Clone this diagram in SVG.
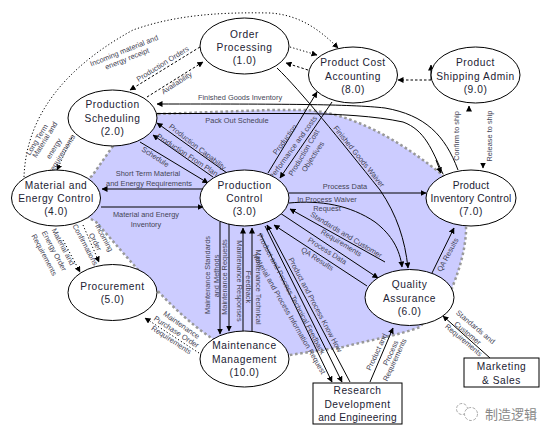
<svg xmlns="http://www.w3.org/2000/svg" width="554" height="439" viewBox="0 0 554 439">
<style>
.n{fill:#fff;stroke:#000;stroke-width:1}
.t{font:10.2px "Liberation Sans",Arial,sans-serif;letter-spacing:.55px;fill:#223;text-anchor:middle}
.l{font:7.4px "Liberation Sans",Arial,sans-serif;fill:#445;text-anchor:middle}
.c{fill:none;stroke:#000;stroke-width:1}
.a{marker-end:url(#h)}
.dot{stroke-dasharray:1.2 2.2}
.dash{stroke-dasharray:2.5 2}
</style>
<defs>
<marker id="h" viewBox="0 0 6 6" refX="5.5" refY="3" markerWidth="6" markerHeight="6" markerUnits="userSpaceOnUse" orient="auto"><path d="M0,0L6,3L0,6Z" fill="#000"/></marker>
</defs>
<rect width="554" height="439" fill="#fff"/>
<path id="region" d="M158,114L270,110L305,110C350,112 400,140 445,177L466,226L466,232C465,250 460,268 452,288L420,327C400,335 370,340 343,347L290,355L244,359L210,337C170,310 130,260 96,222L56,198L92,176L113,146L125,120Z" fill="#ccf" stroke="#999" stroke-width="2.5" stroke-dasharray="2.6 2.6"/>
<g id="connectors">
<path class="c a dash" d="M200,47L130,90"/>
<path class="c a dash" d="M147,97L203,62"/>
<path class="c a dot" d="M24,177C26,120 60,70 133,30C175,15 220,12 270,13C300,15 320,30 338,48"/>
<path class="c a dot" d="M290,47L317,55"/>
<path class="c a dash" d="M308,70L286,63"/>
<path class="c a dash" d="M431,80L398,80"/>
<path class="c a" d="M431,80L431,65"/>
<path class="c a" d="M469,111L469,106"/>
<path class="c a" d="M483,163L483,168"/>
<path class="c a" d="M458,170C445,135 425,115 385,108C350,104 280,104 157,104"/>
<path class="c" d="M157,113.500L300,113.500C340,114 375,116 403,122C425,130 432,150 443,174"/>
<path class="c a" d="M436,160L441,173"/>
<path class="c a" d="M227,173L157,123"/>
<path class="c a" d="M213,177L153,135"/>
<path class="c a" d="M140,142L208,183"/>
<path class="c a" d="M203,189L102,189"/>
<path class="c a" d="M101,207L203,207"/>
<path class="c a dot" d="M73,135L57,170"/>
<path class="c a dot" d="M63,240L80,272"/>
<path class="c a dot" d="M83,225L99,262"/>
<path class="c a dot" d="M199,353L145,318"/>
<path class="c a" d="M220,222L220,334"/>
<path class="c a" d="M229,222L229,331"/>
<path class="c a" d="M243,331L243,228"/>
<path class="c a" d="M252,331L252,228"/>
<path class="c a" d="M260,233L332,382"/>
<path class="c a" d="M265,226L342,382"/>
<path class="c a" d="M350,382L267,225"/>
<path class="c a" d="M385,262L290,209"/>
<path class="c a" d="M280,213L378,278"/>
<path class="c a" d="M367,286L274,225"/>
<path class="c a" d="M289,203C320,200 350,205 375,222C392,235 400,250 402,267"/>
<path class="c a" d="M277,68C300,90 340,140 380,190C397,215 405,240 408,268"/>
<path class="c a" d="M289,193L426,193"/>
<path class="c a" d="M432,273L454,228"/>
<path class="c a" d="M268,173L317,92"/>
<path class="c a" d="M332,102L280,178"/>
<path class="c a" d="M370,382L393,328"/>
<path class="c a" d="M490,358L443,316"/>
</g>
<g id="labels">
<text class="l" transform="translate(125,53) rotate(-22)">Incoming material and</text>
<text class="l" transform="translate(128,61) rotate(-22)">energy receipt</text>
<text class="l" transform="translate(164,66) rotate(-32)">Production Orders</text>
<text class="l" transform="translate(178,85) rotate(-33)">Availability</text>
<text class="l" transform="translate(39,141) rotate(-58)">Long Term</text>
<text class="l" transform="translate(47,141) rotate(-58)">Material and</text>
<text class="l" transform="translate(56,150) rotate(-58)">energy</text>
<text class="l" transform="translate(64,155) rotate(-58)">requirements</text>
<text class="l" x="240" y="100">Finished Goods Inventory</text>
<text class="l" x="237" y="123">Pack Out Schedule</text>
<text class="l" transform="translate(196,149) rotate(38)">Production Capability</text>
<text class="l" transform="translate(186,157) rotate(33)">Production From Plan</text>
<text class="l" transform="translate(154,159) rotate(33)">Schedule</text>
<text class="l" x="148" y="176">Short Term Material</text>
<text class="l" x="149" y="186">and Energy Requirements</text>
<text class="l" x="146" y="217">Material and Energy</text>
<text class="l" x="146" y="227">Inventory</text>
<text class="l" x="345" y="189">Process Data</text>
<text class="l" x="327" y="202">In Process Waiver</text>
<text class="l" x="327" y="211">Request</text>
<text class="l" transform="translate(287,141) rotate(-54)">Production</text>
<text class="l" transform="translate(295,149) rotate(-54)">Performance and costs</text>
<text class="l" transform="translate(306,154) rotate(-59)">Production Cost</text>
<text class="l" transform="translate(315,158) rotate(-57)">Objectives</text>
<text class="l" transform="translate(357,158) rotate(51)">Finished Goods Waiver</text>
<text class="l" transform="translate(459,136) rotate(-90)">Confirm to ship</text>
<text class="l" transform="translate(492,136) rotate(-90)">Release to ship</text>
<text class="l" transform="translate(345,237) rotate(31)">Standards and Customer</text>
<text class="l" transform="translate(340,245) rotate(31)">Requirements</text>
<text class="l" transform="translate(326,253) rotate(32)">Process Data</text>
<text class="l" transform="translate(316,261) rotate(33)">QA Results</text>
<text class="l" transform="translate(450,256) rotate(-62)">QA Results</text>
<text class="l" transform="translate(313,306) rotate(62)">Product and Process Know How</text>
<text class="l" transform="translate(289,295) rotate(62)">Product and Process Technical Feedback</text>
<text class="l" transform="translate(287,315) rotate(60)">Material and Process Information Request</text>
<text class="l" transform="translate(256,287) rotate(90)">Maintenance Technical</text>
<text class="l" transform="translate(246,287) rotate(90)">Feedback</text>
<text class="l" transform="translate(237,281) rotate(90)">Maintenance Responses</text>
<text class="l" transform="translate(227,277) rotate(-90)">Maintenance Requests</text>
<text class="l" transform="translate(210,275) rotate(-90)">Maintenance Standards</text>
<text class="l" transform="translate(219,276) rotate(-90)">and Methods</text>
<text class="l" transform="translate(180,327) rotate(35)">Maintenance</text>
<text class="l" transform="translate(175,334) rotate(33)">Purchase Order</text>
<text class="l" transform="translate(170,342) rotate(33)">Requirements</text>
<text class="l" transform="translate(61,248) rotate(62)">Material and</text>
<text class="l" transform="translate(52,252) rotate(62)">Energy Order</text>
<text class="l" transform="translate(42,256) rotate(62)">Requirements</text>
<text class="l" transform="translate(102,239) rotate(62)">Incoming</text>
<text class="l" transform="translate(93,243) rotate(62)">Order</text>
<text class="l" transform="translate(83,246) rotate(62)">Confirmations</text>
<text class="l" transform="translate(379,353) rotate(-65)">Product and</text>
<text class="l" transform="translate(393,354) rotate(-65)">Process</text>
<text class="l" transform="translate(397,361) rotate(-65)">Requirements</text>
<text class="l" transform="translate(474,329) rotate(40)">Standards and</text>
<text class="l" transform="translate(466,335) rotate(40)">Customer</text>
<text class="l" transform="translate(462,342) rotate(40)">Requirements</text>
</g>
<g id="n1"><ellipse class="n" cx="244.500" cy="46" rx="44.500" ry="28"/><text class="t" x="244.500" y="38">Order</text><text class="t" x="244.500" y="51">Processing</text><text class="t" x="244.500" y="64">(1.0)</text></g>
<g id="n2"><ellipse class="n" cx="112.500" cy="118" rx="44.500" ry="28"/><text class="t" x="112.500" y="108">Production</text><text class="t" x="112.500" y="122">Scheduling</text><text class="t" x="112.500" y="135">(2.0)</text></g>
<g id="n3"><ellipse class="n" cx="244.500" cy="198" rx="44.500" ry="28"/><text class="t" x="244.500" y="189">Production</text><text class="t" x="244.500" y="202">Control</text><text class="t" x="244.500" y="215">(3.0)</text></g>
<g id="n4"><ellipse class="n" cx="56" cy="198" rx="44.500" ry="28"/><text class="t" x="56" y="189">Material and</text><text class="t" x="56" y="202">Energy Control</text><text class="t" x="56" y="215">(4.0)</text></g>
<g id="n5"><ellipse class="n" cx="112.500" cy="292.500" rx="44.500" ry="28"/><text class="t" x="112.500" y="290">Procurement</text><text class="t" x="112.500" y="303">(5.0)</text></g>
<g id="n6"><ellipse class="n" cx="409.500" cy="297.500" rx="44.500" ry="28"/><text class="t" x="409.500" y="288">Quality</text><text class="t" x="409.500" y="302">Assurance</text><text class="t" x="409.500" y="315">(6.0)</text></g>
<g id="n7"><ellipse class="n" cx="471" cy="198" rx="45" ry="28"/><text class="t" x="471" y="189" style="letter-spacing:.2px">Product</text><text class="t" x="471" y="202" style="letter-spacing:.2px">Inventory Control</text><text class="t" x="471" y="215">(7.0)</text></g>
<g id="n8"><ellipse class="n" cx="353" cy="75" rx="44.500" ry="28"/><text class="t" x="353" y="66">Product Cost</text><text class="t" x="353" y="80">Accounting</text><text class="t" x="353" y="93">(8.0)</text></g>
<g id="n9"><ellipse class="n" cx="475.500" cy="75" rx="44.500" ry="28"/><text class="t" x="475.500" y="66">Product</text><text class="t" x="475.500" y="80">Shipping Admin</text><text class="t" x="475.500" y="93">(9.0)</text></g>
<g id="n10"><ellipse class="n" cx="244.500" cy="359" rx="44.500" ry="28"/><text class="t" x="244.500" y="349">Maintenance</text><text class="t" x="244.500" y="363">Management</text><text class="t" x="244.500" y="376">(10.0)</text></g>
<g id="rd"><rect class="n" x="313" y="383" width="89" height="41"/><text class="t" x="357.500" y="394">Research</text><text class="t" x="357.500" y="408">Development</text><text class="t" x="357.500" y="421" style="letter-spacing:.3px">and Engineering</text></g>
<g id="ms"><rect class="n" x="464" y="358" width="75" height="29"/><text class="t" x="501.500" y="370">Marketing</text><text class="t" x="501.500" y="384">&amp; Sales</text></g>
<g id="watermark">
<circle cx="462" cy="409" r="5.500" fill="#fff" stroke="#aaa" stroke-width="1" stroke-dasharray="3 1.500"/>
<circle cx="471" cy="414" r="6.500" fill="#fff" stroke="#aaa" stroke-width="1" stroke-dasharray="3 1.500"/>
<text x="485" y="419" style="font:13px 'Noto Sans CJK SC',sans-serif;fill:#888">制造逻辑</text>
</g>
</svg>
